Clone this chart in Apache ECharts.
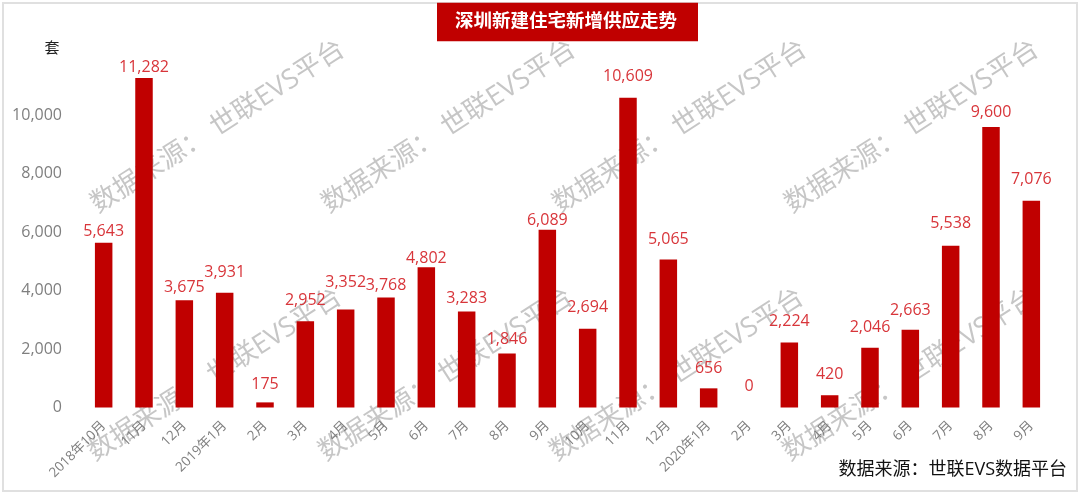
<!DOCTYPE html>
<html>
  <head>
    <meta charset="utf-8" />
    <script src="https://cdn.jsdelivr.net/npm/echarts@6/dist/echarts.min.js"></script>
    <style>
      html, body { margin: 0; padding: 0; background: #fff; }
      #main { width: 1080px; height: 495px; }
    </style>
  </head>
  <body>
    <div id="main"></div>

    <script type="text/javascript">
      const months = ["2018年10月", "11月", "12月", "2019年1月", "2月", "3月", "4月", "5月", "6月", "7月", "8月", "9月",
        "10月", "11月", "12月", "2020年1月", "2月", "3月", "4月", "5月", "6月", "7月", "8月", "9月"];
      const supply = [5643, 11282, 3675, 3931, 175, 2952, 3352, 3768, 4802, 3283, 1846, 6089,
        2694, 10609, 5065, 656, 0, 2224, 420, 2046, 2663, 5538, 9600, 7076];
      // the labels sit at uneven heights above the bars in the original
      const labelGaps = [3.5, 3, 4.5, 12.5, 9.5, 12.5, 19.5, 4.5, 0.5, 5.5, 6.5, 1.5,
        13.5, 13.5, 12.5, 11.5, 13.5, 13.5, 12.5, 12.5, 11.5, 14.5, 6.5, 13.5];
      const yTicks = [0, 2000, 4000, 6000, 8000, 10000];

      const font = '"Open Sans", "Noto Sans CJK SC", sans-serif';
      const watermarkSpots = [
        [218, 127], [449, 127], [680, 127], [912, 127],
        [215, 375], [446, 375], [677, 375], [910, 375],
      ];

      const watermarks = watermarkSpots.map(function (p) {
        return {
          type: "text",
          x: p[0],
          y: p[1],
          rotation: (32.8 * Math.PI) / 180,
          z: 0,
          style: {
            text: "数据来源： 世联EVS平台",
            font: "27px " + font,
            fill: "rgba(120,120,120,0.42)",
            align: "center",
            verticalAlign: "middle",
          },
        };
      });

      var option = {
        animation: false,
        title: {
          text: "深圳新建住宅新增供应走势",
          left: 437,
          top: 3,
          padding: [10, 21, 10, 18],
          backgroundColor: "#c00000",
          textStyle: { color: "#fff", fontSize: 18.5, fontWeight: "bold", fontFamily: font, lineHeight: 18 },
        },
        grid: { left: 83.5, right: 28.5, top: 57, bottom: 87.5 },
        xAxis: {
          type: "category",
          data: months,
          axisLine: { show: false },
          axisTick: { show: false },
          axisLabel: { interval: 0, rotate: 45, color: "#7f7f7f", fontSize: 13.5, fontFamily: font, margin: 16 },
        },
        yAxis: {
          type: "value",
          min: 0,
          max: 12000,
          interval: 2000,
          splitLine: { show: false },
          axisLine: { show: false },
          axisTick: { show: false },
          axisLabel: {
            color: "#7f7f7f",
            fontSize: 16,
            fontFamily: font,
            margin: 21.5,
            padding: [2, 0, 0, 0],
            formatter: function (v) {
              return yTicks.indexOf(v) >= 0 ? v.toLocaleString("en-US") : "";
            },
          },
        },
        series: [
          {
            type: "bar",
            barWidth: 17.5,
            itemStyle: { color: "#c00000" },
            data: supply.map(function (v, i) {
              return {
                value: v,
                label: { distance: labelGaps[i] },
              };
            }),
            label: {
              show: true,
              position: "top",
              color: "#d8353a",
              fontSize: 16,
              fontFamily: font,
              formatter: function (p) {
                return p.value.toLocaleString("en-US");
              },
            },
          },
        ],
        graphic: watermarks.concat([
          {
            type: "rect",
            shape: { x: 3, y: 3, width: 1074, height: 488 },
            style: { fill: "none", stroke: "#e0e0e0", lineWidth: 2 },
            z: 0,
          },
          {
            type: "text",
            x: 52,
            y: 49,
            style: { text: "套", font: "15px " + font, fill: "#222", align: "center", verticalAlign: "middle" },
          },
          {
            type: "text",
            x: 1067,
            y: 470,
            style: { text: "数据来源：世联EVS数据平台", font: "18px " + font, fill: "#111", align: "right", verticalAlign: "middle" },
          },
        ]),
      };

      const chartContainer = document.getElementById("main");
      const myChart = echarts.init(chartContainer);
      myChart.setOption(option);
    </script>
  </body>
</html>
